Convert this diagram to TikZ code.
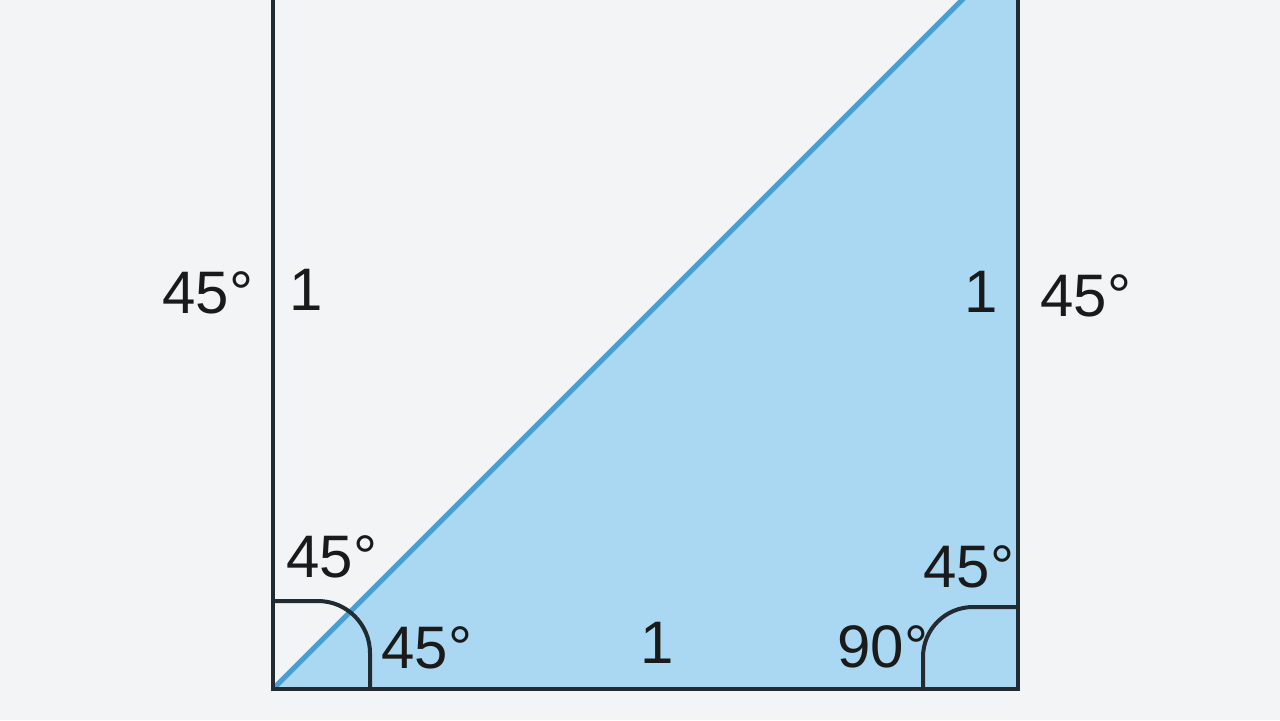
\documentclass[tikz,border=0pt]{standalone}
\usepackage{fontspec}
\setmainfont{Liberation Sans}
\definecolor{bg}{HTML}{F3F4F5}
\definecolor{fillblue}{HTML}{AAD8F2}
\definecolor{lineblue}{HTML}{4A9FD0}
\definecolor{edge}{HTML}{222B31}
\definecolor{txt}{HTML}{1A1A1A}
\tikzset{
  lbl/.style={inner sep=0pt, text=txt, font=\fontsize{30}{35}\selectfont},
  edgeline/.style={draw=edge, line width=2pt},
  marker/.style={draw=edge, line width=2pt},
}
\begin{document}
\begin{tikzpicture}[x=0.5pt,y=-0.5pt]
\fill[bg] (0,0) rectangle (1280,720);
\useasboundingbox (0,0) rectangle (1280,720);
\begin{scope}
\clip (0,0) rectangle (1280,720);
\coordinate (A) at (273,689);
\coordinate (B) at (1018,689);
\coordinate (C) at (1018,-56);
\coordinate (D) at (273,-56);
\fill[fillblue] (A) -- (B) -- (C) -- cycle;
\draw[lineblue, line width=2.5pt] (A) -- (C);
\draw[marker, rounded corners=26pt] (273,601) -- (370,601) -- (370,689);
\draw[marker, rounded corners=25pt] (1018,607) -- (923,607) -- (923,689);
\draw[edgeline] (D) -- (A) -- (B) -- (C);
\end{scope}
\node[lbl, anchor=base west] (l45) at (162,313) {45°};
\node[lbl, anchor=base] (l1) at (306,310) {1};
\node[lbl, anchor=base] (r1) at (981,312) {1};
\node[lbl, anchor=base west] (r45) at (1040,316) {45°};
\node[lbl, anchor=base west] (tl45) at (286,577) {45°};
\node[lbl, anchor=base west] (b45) at (381,668) {45°};
\node[lbl, anchor=base] (b1) at (657,663) {1};
\node[lbl, anchor=base west] (b90) at (837,667) {90°};
\node[lbl, anchor=base west] (br45) at (923,587) {45°};
\end{tikzpicture}
\end{document}
